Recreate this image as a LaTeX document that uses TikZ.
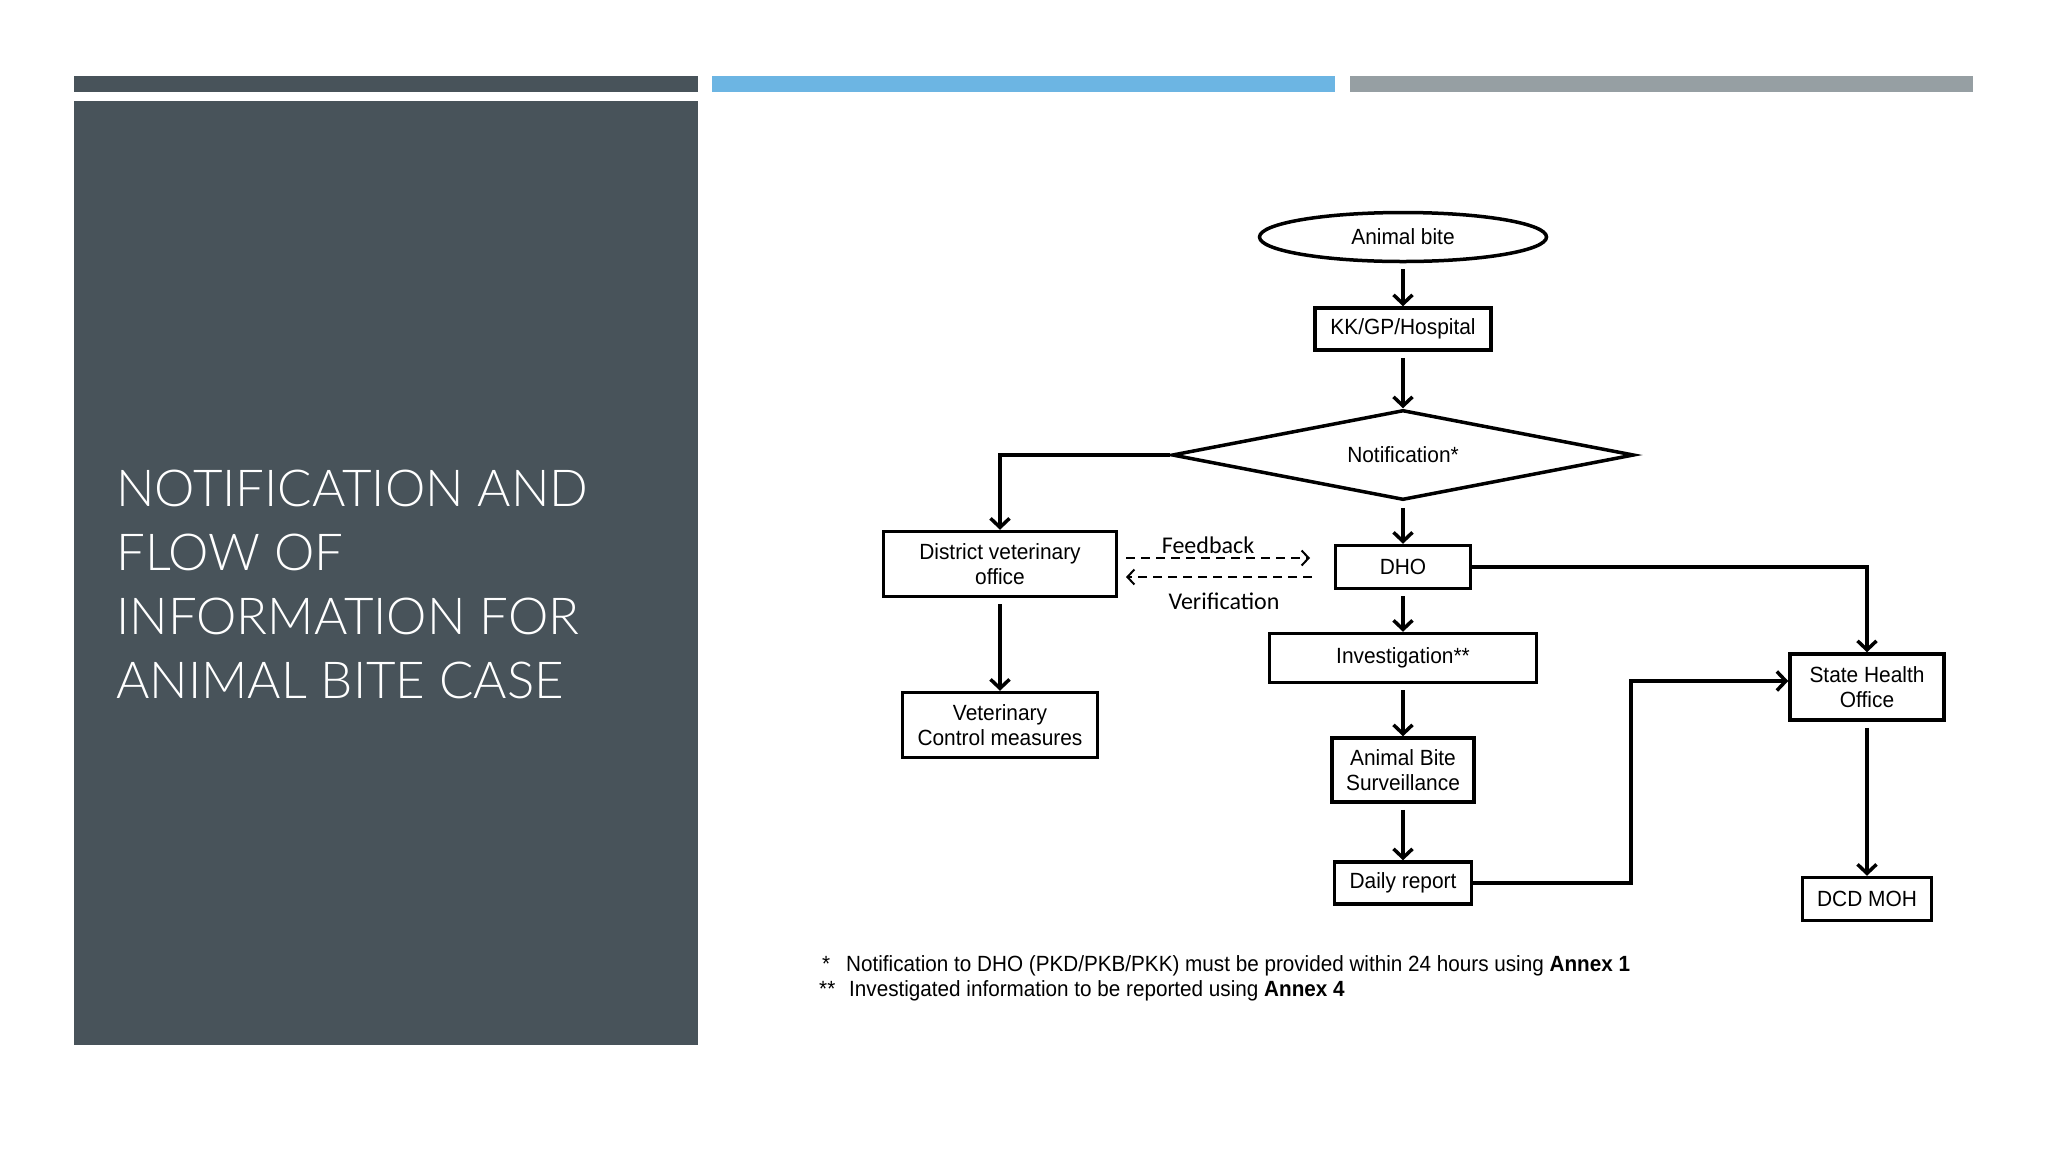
\documentclass[tikz,border=0pt]{standalone}
\usepackage{fontspec}
\usetikzlibrary{arrows.meta, shapes.geometric}
\newfontfamily\titlefont{Lato Light}
\newfontfamily\boxfont{Liberation Sans}[FakeStretch=0.95]
\newfontfamily\footfont{Liberation Sans}[FakeStretch=0.94]
\newfontfamily\notefont{Carlito}
\definecolor{cslate}{HTML}{48535A}
\definecolor{csky}{HTML}{6CB5E3}
\definecolor{cgrey}{HTML}{969FA3}
\tikzset{
  box/.style={draw, line width=3.5pt, align=center, inner sep=0pt, font=\boxfont\fontsize{22}{25}\selectfont},
  arrow/.style={-{Straight Barb[length=9pt, width=19pt]}, line width=3.5pt, shorten <=6pt},
  dasharrow/.style={-{Straight Barb[length=7pt, width=15pt]}, line width=2pt, dash pattern=on 9pt off 6pt},
  label/.style={font=\notefont\fontsize{24}{28}\selectfont},
  footnote/.style={anchor=base west, inner sep=0pt, font=\footfont\fontsize{22}{26}\selectfont},
}

\begin{document}
\begin{tikzpicture}[x=1pt, y=-1pt]
  \useasboundingbox (0,0) rectangle (2048,1152);
  \fill[white] (0,0) rectangle (2048,1152);
  % top bars and title panel
  \fill[cslate] (74,76) rectangle (698,92);
  \fill[csky] (712,76) rectangle (1335,92);
  \fill[cgrey] (1350,76) rectangle (1973,92);
  \fill[cslate] (74,101) rectangle (698,1045);
  \node[anchor=north west, inner sep=0pt, align=left, text=white,
        font=\titlefont\fontsize{51}{64}\selectfont] (title) at (116,470)
        {NOTIFICATION AND\\FLOW OF\\INFORMATION FOR\\ANIMAL BITE CASE};

  % flow chart
  \node[box, ellipse, minimum width=287pt, minimum height=49pt] (bite) at (1403,237) {Animal bite};
  \node[box, minimum width=176pt, minimum height=42pt] (kk) at (1403,329) {KK/GP/Hospital};
  \node[box, diamond, aspect=5, minimum width=462pt, minimum height=90pt] (notif) at (1403,455) {Notification*};
  \node[box, minimum width=135pt, minimum height=43pt] (dho) at (1403,567) {DHO};
  \node[box, minimum width=267pt, minimum height=49pt] (inv) at (1403,658) {Investigation**};
  \node[box, minimum width=142pt, minimum height=64pt] (abs) at (1403,770) {Animal Bite\\Surveillance};
  \node[box, minimum width=137pt, minimum height=42pt] (daily) at (1403,883) {Daily report};
  \node[box, minimum width=233pt, minimum height=65pt] (dvo) at (1000,564) {District veterinary\\office};
  \node[box, minimum width=195pt, minimum height=65pt] (vcm) at (1000,725) {Veterinary\\Control measures};
  \node[box, minimum width=154pt, minimum height=66pt] (sho) at (1867,687) {State Health\\Office};
  \node[box, minimum width=129pt, minimum height=43pt] (dcd) at (1867,899) {DCD MOH};

  \draw[arrow] (bite) -- (kk);
  \draw[arrow] (kk) -- (notif.north);
  \draw[arrow] (notif.south) -- (dho);
  \draw[arrow, shorten <=0pt] (notif.west) -| (dvo.north);
  \draw[arrow] (dvo) -- (vcm);
  \draw[arrow] (dho) -- (inv);
  \draw[arrow] (inv) -- (abs);
  \draw[arrow] (abs) -- (daily);
  \draw[arrow, shorten <=0pt] (dho.east) -| (sho.north);
  \coordinate (bend) at (1631,883);
  \draw[arrow, shorten <=0pt] (daily.east) -- (bend) |- ([yshift=6pt]sho.west);
  \draw[arrow] (sho) -- (dcd);

  % feedback loop between DVO and DHO
  \coordinate (fbA) at (1126,558);
  \coordinate (fbB) at (1310,558);
  \coordinate (vfA) at (1312,577);
  \coordinate (vfB) at (1126,577);
  \draw[dasharrow] (fbA) -- (fbB);
  \draw[dasharrow] (vfA) -- (vfB);
  \node[label] (fb) at (1208,545) {Feedback};
  \node[label] (vf) at (1224,601) {Verification};

  % footnotes
  \node[footnote] (star) at (822,971) {*};
  \node[footnote] (note1) at (846,971) {Notification to DHO (PKD/PKB/PKK) must be provided within 24 hours using \textbf{Annex 1}};
  \node[footnote] (star2) at (819,996) {**};
  \node[footnote] (note2) at (849,996) {Investigated information to be reported using \textbf{Annex 4}};
\end{tikzpicture}
\end{document}
